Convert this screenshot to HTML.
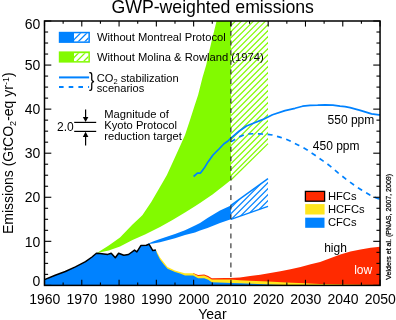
<!DOCTYPE html>
<html lang="en"><head><meta charset="utf-8"><title>GWP-weighted emissions</title>
<style>html,body{margin:0;padding:0;background:#fff;}body{width:396px;height:320px;overflow:hidden;}svg{display:block;}text{font-family:"Liberation Sans", Arial, Helvetica, sans-serif;fill:#000;}</style></head><body>
<svg width="396" height="320" viewBox="0 0 396 320">
<rect width="396" height="320" fill="#fff"/>
<defs>
<clipPath id="plot"><rect x="44.50" y="21.00" width="335.55" height="264.40"/></clipPath>
<clipPath id="gh"><polygon points="230.90,21.00 268.00,21.00 268.00,143.60 230.90,180.00"/></clipPath>
<clipPath id="bh"><polygon points="230.90,205.40 268.00,178.60 268.00,206.40 230.90,219.30"/></clipPath>
<clipPath id="lg1"><rect x="74.0" y="33.3" width="14.4" height="8.1"/></clipPath>
<clipPath id="lg2"><rect x="74.0" y="53.2" width="14.4" height="7.9"/></clipPath>
</defs>
<g clip-path="url(#plot)">
<polygon fill="#82fa00" points="96.90,252.90 108.75,245.60 120.00,237.50 132.50,224.40 140.00,217.50 142.50,215.00 151.25,201.90 157.50,191.25 163.75,180.60 166.90,175.00 173.75,160.00 180.00,146.25 185.00,135.00 190.00,120.00 194.40,106.25 198.10,95.00 202.50,77.50 206.20,65.00 208.40,55.00 211.90,40.00 215.00,27.50 216.60,21.00 230.90,21.00 230.90,180.00 225.00,184.75 212.50,194.60 200.00,203.10 195.00,206.25 185.00,212.50 172.50,220.00 160.00,226.90 145.00,234.40 132.50,240.00 120.00,246.50 108.75,250.60 96.90,252.90"/>
<g clip-path="url(#gh)" stroke="#82fa00" stroke-width="1.1" fill="none">
<line x1="225" y1="25.60" x2="275" y2="-24.40"/>
<line x1="225" y1="31.60" x2="275" y2="-18.40"/>
<line x1="225" y1="37.60" x2="275" y2="-12.40"/>
<line x1="225" y1="43.60" x2="275" y2="-6.40"/>
<line x1="225" y1="49.60" x2="275" y2="-0.40"/>
<line x1="225" y1="55.60" x2="275" y2="5.60"/>
<line x1="225" y1="61.60" x2="275" y2="11.60"/>
<line x1="225" y1="67.60" x2="275" y2="17.60"/>
<line x1="225" y1="73.60" x2="275" y2="23.60"/>
<line x1="225" y1="79.60" x2="275" y2="29.60"/>
<line x1="225" y1="85.60" x2="275" y2="35.60"/>
<line x1="225" y1="91.60" x2="275" y2="41.60"/>
<line x1="225" y1="97.60" x2="275" y2="47.60"/>
<line x1="225" y1="103.60" x2="275" y2="53.60"/>
<line x1="225" y1="109.60" x2="275" y2="59.60"/>
<line x1="225" y1="115.60" x2="275" y2="65.60"/>
<line x1="225" y1="121.60" x2="275" y2="71.60"/>
<line x1="225" y1="127.60" x2="275" y2="77.60"/>
<line x1="225" y1="133.60" x2="275" y2="83.60"/>
<line x1="225" y1="139.60" x2="275" y2="89.60"/>
<line x1="225" y1="145.60" x2="275" y2="95.60"/>
<line x1="225" y1="151.60" x2="275" y2="101.60"/>
<line x1="225" y1="157.60" x2="275" y2="107.60"/>
<line x1="225" y1="163.60" x2="275" y2="113.60"/>
<line x1="225" y1="169.60" x2="275" y2="119.60"/>
<line x1="225" y1="175.60" x2="275" y2="125.60"/>
<line x1="225" y1="181.60" x2="275" y2="131.60"/>
<line x1="225" y1="187.60" x2="275" y2="137.60"/>
<line x1="225" y1="193.60" x2="275" y2="143.60"/>
<line x1="225" y1="199.60" x2="275" y2="149.60"/>
<line x1="225" y1="205.60" x2="275" y2="155.60"/>
<line x1="225" y1="211.60" x2="275" y2="161.60"/>
<line x1="225" y1="217.60" x2="275" y2="167.60"/>
<line x1="225" y1="223.60" x2="275" y2="173.60"/>
<line x1="225" y1="229.60" x2="275" y2="179.60"/>
<line x1="225" y1="235.60" x2="275" y2="185.60"/>
<line x1="225" y1="241.60" x2="275" y2="191.60"/>
<line x1="225" y1="247.60" x2="275" y2="197.60"/>
<line x1="225" y1="253.60" x2="275" y2="203.60"/>
<line x1="225" y1="259.60" x2="275" y2="209.60"/>
</g>
<line x1="230.9" y1="180.0" x2="268.00" y2="143.60" stroke="#82fa00" stroke-width="1.2"/>
<polygon fill="#0082ff" points="146.90,244.30 153.00,241.60 160.00,239.10 175.00,234.10 185.00,230.20 195.00,225.60 200.00,223.10 207.50,218.10 220.00,210.60 230.90,205.40 230.90,219.30 220.00,223.10 207.50,228.10 200.00,230.50 195.00,232.50 185.00,234.90 175.00,238.20 160.00,242.30 153.00,243.60 146.90,244.30"/>
<g clip-path="url(#bh)" stroke="#0082ff" stroke-width="1.2" fill="none">
<line x1="225" y1="201.60" x2="275" y2="151.60"/>
<line x1="225" y1="207.60" x2="275" y2="157.60"/>
<line x1="225" y1="213.60" x2="275" y2="163.60"/>
<line x1="225" y1="219.60" x2="275" y2="169.60"/>
<line x1="225" y1="225.60" x2="275" y2="175.60"/>
<line x1="225" y1="231.60" x2="275" y2="181.60"/>
<line x1="225" y1="237.60" x2="275" y2="187.60"/>
<line x1="225" y1="243.60" x2="275" y2="193.60"/>
<line x1="225" y1="249.60" x2="275" y2="199.60"/>
<line x1="225" y1="255.60" x2="275" y2="205.60"/>
</g>
<polyline fill="none" stroke="#0082ff" stroke-width="1.4" points="230.90,205.40 268.00,178.60"/>
<polyline fill="none" stroke="#0082ff" stroke-width="1.4" points="230.90,219.30 268.00,206.40"/>
<polygon fill="#ff2a00" points="193.10,273.10 198.10,275.10 204.20,274.60 208.20,276.10 211.80,278.20 225.00,278.00 230.60,277.90 240.00,277.40 250.10,276.00 260.20,274.70 270.30,272.90 280.40,271.30 290.50,269.30 300.60,266.90 310.70,264.20 320.10,262.00 330.20,258.30 340.30,254.60 350.40,251.60 360.50,249.40 370.60,247.80 380.00,246.80 380.05,285.40 193.10,285.40"/>
<polygon fill="#ffe61e" points="44.50,279.60 55.20,275.30 65.30,271.50 75.40,266.90 85.50,261.70 92.00,257.00 96.40,253.30 100.00,253.60 107.80,254.40 111.20,253.20 115.30,257.80 118.60,253.20 123.80,255.30 128.50,254.50 134.50,250.10 136.90,251.90 141.00,245.40 146.30,245.30 149.00,244.20 152.80,250.60 155.90,250.00 160.00,257.50 163.80,262.20 167.50,267.00 175.00,270.40 180.00,272.00 185.00,273.30 193.10,273.20 198.10,275.90 204.20,275.60 208.20,277.20 211.80,279.40 225.00,279.40 230.60,279.60 240.00,280.20 250.00,280.80 268.30,281.60 286.50,282.60 304.60,283.30 320.00,284.00 350.00,284.60 380.00,285.00 380.05,285.40 44.50,285.40"/>
<polygon fill="#0082ff" points="44.50,279.60 55.20,275.30 65.30,271.50 75.40,266.90 85.50,261.70 92.00,257.00 96.40,253.30 100.00,253.60 107.80,254.40 111.20,253.20 115.30,257.80 118.60,253.20 123.80,255.30 128.50,254.50 134.50,250.10 136.90,251.90 141.00,245.40 146.30,245.30 149.00,244.20 152.80,250.60 155.90,250.00 157.00,253.50 160.00,259.60 163.80,264.40 167.50,268.80 175.00,271.90 180.00,273.60 185.00,275.60 193.10,275.60 198.10,278.20 204.20,278.20 208.20,279.70 211.80,282.20 225.00,282.70 230.60,283.00 240.00,283.30 252.00,283.80 268.00,284.50 290.00,285.20 380.00,285.40 380.05,285.40 44.50,285.40"/>
<polyline fill="none" stroke="#000" stroke-width="1.5" stroke-linejoin="round" points="44.50,279.60 55.20,275.30 65.30,271.50 75.40,266.90 85.50,261.70 92.00,257.00 96.40,253.30 100.00,253.60 107.80,254.40 111.20,253.20 115.30,257.80 118.60,253.20 123.80,255.30 128.50,254.50 134.50,250.10 136.90,251.90 141.00,245.40 146.30,245.30 149.00,244.20 152.80,250.60 155.90,250.00"/>
<polyline fill="none" stroke="#0082ff" stroke-width="1.7" stroke-linejoin="round" points="193.60,176.50 197.40,173.10 200.50,173.10 204.25,168.10 208.00,161.90 213.00,155.00 219.25,148.75 224.00,143.75 228.00,141.00 230.90,138.10 239.00,131.25 246.50,126.00 255.25,122.50 260.00,120.60 264.00,119.00 272.50,114.75 285.00,110.60 295.00,108.30 302.60,106.20 310.15,105.30 317.70,105.20 325.30,104.90 332.90,105.15 340.00,106.20 345.00,106.70 350.10,107.60 360.20,110.40 371.60,113.90 379.10,114.80 380.00,114.90"/>
<polyline fill="none" stroke="#0082ff" stroke-width="1.7" stroke-linejoin="round" stroke-dasharray="5.0 4.65" points="230.90,141.90 234.00,140.00 239.00,136.90 244.00,135.00 248.40,134.00 252.75,133.75 257.75,133.90 262.10,134.00 266.90,134.20 272.50,135.00 276.25,136.10 280.60,137.40 285.50,138.90 290.20,141.00 294.60,143.25 299.00,145.40 302.80,147.40 307.25,149.90 310.80,152.50 315.10,155.25 318.90,158.00 323.00,160.90 326.80,163.50 330.50,166.40 334.30,169.60 338.10,172.90 341.90,175.90 346.00,179.20 349.90,182.00 354.00,185.00 357.80,187.60 362.00,190.30 366.15,192.70 369.90,195.00 374.20,197.10 378.30,198.60 380.00,199.10"/>
<line x1="230.9" y1="21.3" x2="230.9" y2="285.40" stroke="#262626" stroke-width="1.1" stroke-dasharray="4.9 4.75"/>
</g>
<g stroke="#000" fill="none">
<rect x="44.50" y="21.00" width="335.55" height="264.40" stroke-width="1.5"/>
<line x1="44.50" y1="285.40" x2="44.50" y2="279.80" stroke-width="1.1"/>
<line x1="44.50" y1="21.00" x2="44.50" y2="26.60" stroke-width="1.1"/>
<line x1="63.14" y1="285.40" x2="63.14" y2="282.60" stroke-width="1.1"/>
<line x1="63.14" y1="21.00" x2="63.14" y2="23.80" stroke-width="1.1"/>
<line x1="81.78" y1="285.40" x2="81.78" y2="279.80" stroke-width="1.1"/>
<line x1="81.78" y1="21.00" x2="81.78" y2="26.60" stroke-width="1.1"/>
<line x1="100.43" y1="285.40" x2="100.43" y2="282.60" stroke-width="1.1"/>
<line x1="100.43" y1="21.00" x2="100.43" y2="23.80" stroke-width="1.1"/>
<line x1="119.07" y1="285.40" x2="119.07" y2="279.80" stroke-width="1.1"/>
<line x1="119.07" y1="21.00" x2="119.07" y2="26.60" stroke-width="1.1"/>
<line x1="137.71" y1="285.40" x2="137.71" y2="282.60" stroke-width="1.1"/>
<line x1="137.71" y1="21.00" x2="137.71" y2="23.80" stroke-width="1.1"/>
<line x1="156.35" y1="285.40" x2="156.35" y2="279.80" stroke-width="1.1"/>
<line x1="156.35" y1="21.00" x2="156.35" y2="26.60" stroke-width="1.1"/>
<line x1="174.99" y1="285.40" x2="174.99" y2="282.60" stroke-width="1.1"/>
<line x1="174.99" y1="21.00" x2="174.99" y2="23.80" stroke-width="1.1"/>
<line x1="193.63" y1="285.40" x2="193.63" y2="279.80" stroke-width="1.1"/>
<line x1="193.63" y1="21.00" x2="193.63" y2="26.60" stroke-width="1.1"/>
<line x1="212.28" y1="285.40" x2="212.28" y2="282.60" stroke-width="1.1"/>
<line x1="212.28" y1="21.00" x2="212.28" y2="23.80" stroke-width="1.1"/>
<line x1="230.92" y1="285.40" x2="230.92" y2="279.80" stroke-width="1.1"/>
<line x1="230.92" y1="21.00" x2="230.92" y2="26.60" stroke-width="1.1"/>
<line x1="249.56" y1="285.40" x2="249.56" y2="282.60" stroke-width="1.1"/>
<line x1="249.56" y1="21.00" x2="249.56" y2="23.80" stroke-width="1.1"/>
<line x1="268.20" y1="285.40" x2="268.20" y2="279.80" stroke-width="1.1"/>
<line x1="268.20" y1="21.00" x2="268.20" y2="26.60" stroke-width="1.1"/>
<line x1="286.84" y1="285.40" x2="286.84" y2="282.60" stroke-width="1.1"/>
<line x1="286.84" y1="21.00" x2="286.84" y2="23.80" stroke-width="1.1"/>
<line x1="305.48" y1="285.40" x2="305.48" y2="279.80" stroke-width="1.1"/>
<line x1="305.48" y1="21.00" x2="305.48" y2="26.60" stroke-width="1.1"/>
<line x1="324.12" y1="285.40" x2="324.12" y2="282.60" stroke-width="1.1"/>
<line x1="324.12" y1="21.00" x2="324.12" y2="23.80" stroke-width="1.1"/>
<line x1="342.77" y1="285.40" x2="342.77" y2="279.80" stroke-width="1.1"/>
<line x1="342.77" y1="21.00" x2="342.77" y2="26.60" stroke-width="1.1"/>
<line x1="361.41" y1="285.40" x2="361.41" y2="282.60" stroke-width="1.1"/>
<line x1="361.41" y1="21.00" x2="361.41" y2="23.80" stroke-width="1.1"/>
<line x1="380.05" y1="285.40" x2="380.05" y2="279.80" stroke-width="1.1"/>
<line x1="380.05" y1="21.00" x2="380.05" y2="26.60" stroke-width="1.1"/>
<line x1="44.50" y1="285.40" x2="51.30" y2="285.40" stroke-width="1.1"/>
<line x1="380.05" y1="285.40" x2="373.25" y2="285.40" stroke-width="1.1"/>
<line x1="44.50" y1="274.38" x2="48.10" y2="274.38" stroke-width="1.1"/>
<line x1="380.05" y1="274.38" x2="376.45" y2="274.38" stroke-width="1.1"/>
<line x1="44.50" y1="263.37" x2="48.10" y2="263.37" stroke-width="1.1"/>
<line x1="380.05" y1="263.37" x2="376.45" y2="263.37" stroke-width="1.1"/>
<line x1="44.50" y1="252.35" x2="48.10" y2="252.35" stroke-width="1.1"/>
<line x1="380.05" y1="252.35" x2="376.45" y2="252.35" stroke-width="1.1"/>
<line x1="44.50" y1="241.33" x2="51.30" y2="241.33" stroke-width="1.1"/>
<line x1="380.05" y1="241.33" x2="373.25" y2="241.33" stroke-width="1.1"/>
<line x1="44.50" y1="230.32" x2="48.10" y2="230.32" stroke-width="1.1"/>
<line x1="380.05" y1="230.32" x2="376.45" y2="230.32" stroke-width="1.1"/>
<line x1="44.50" y1="219.30" x2="48.10" y2="219.30" stroke-width="1.1"/>
<line x1="380.05" y1="219.30" x2="376.45" y2="219.30" stroke-width="1.1"/>
<line x1="44.50" y1="208.28" x2="48.10" y2="208.28" stroke-width="1.1"/>
<line x1="380.05" y1="208.28" x2="376.45" y2="208.28" stroke-width="1.1"/>
<line x1="44.50" y1="197.27" x2="51.30" y2="197.27" stroke-width="1.1"/>
<line x1="380.05" y1="197.27" x2="373.25" y2="197.27" stroke-width="1.1"/>
<line x1="44.50" y1="186.25" x2="48.10" y2="186.25" stroke-width="1.1"/>
<line x1="380.05" y1="186.25" x2="376.45" y2="186.25" stroke-width="1.1"/>
<line x1="44.50" y1="175.23" x2="48.10" y2="175.23" stroke-width="1.1"/>
<line x1="380.05" y1="175.23" x2="376.45" y2="175.23" stroke-width="1.1"/>
<line x1="44.50" y1="164.22" x2="48.10" y2="164.22" stroke-width="1.1"/>
<line x1="380.05" y1="164.22" x2="376.45" y2="164.22" stroke-width="1.1"/>
<line x1="44.50" y1="153.20" x2="51.30" y2="153.20" stroke-width="1.1"/>
<line x1="380.05" y1="153.20" x2="373.25" y2="153.20" stroke-width="1.1"/>
<line x1="44.50" y1="142.18" x2="48.10" y2="142.18" stroke-width="1.1"/>
<line x1="380.05" y1="142.18" x2="376.45" y2="142.18" stroke-width="1.1"/>
<line x1="44.50" y1="131.17" x2="48.10" y2="131.17" stroke-width="1.1"/>
<line x1="380.05" y1="131.17" x2="376.45" y2="131.17" stroke-width="1.1"/>
<line x1="44.50" y1="120.15" x2="48.10" y2="120.15" stroke-width="1.1"/>
<line x1="380.05" y1="120.15" x2="376.45" y2="120.15" stroke-width="1.1"/>
<line x1="44.50" y1="109.13" x2="51.30" y2="109.13" stroke-width="1.1"/>
<line x1="380.05" y1="109.13" x2="373.25" y2="109.13" stroke-width="1.1"/>
<line x1="44.50" y1="98.12" x2="48.10" y2="98.12" stroke-width="1.1"/>
<line x1="380.05" y1="98.12" x2="376.45" y2="98.12" stroke-width="1.1"/>
<line x1="44.50" y1="87.10" x2="48.10" y2="87.10" stroke-width="1.1"/>
<line x1="380.05" y1="87.10" x2="376.45" y2="87.10" stroke-width="1.1"/>
<line x1="44.50" y1="76.08" x2="48.10" y2="76.08" stroke-width="1.1"/>
<line x1="380.05" y1="76.08" x2="376.45" y2="76.08" stroke-width="1.1"/>
<line x1="44.50" y1="65.07" x2="51.30" y2="65.07" stroke-width="1.1"/>
<line x1="380.05" y1="65.07" x2="373.25" y2="65.07" stroke-width="1.1"/>
<line x1="44.50" y1="54.05" x2="48.10" y2="54.05" stroke-width="1.1"/>
<line x1="380.05" y1="54.05" x2="376.45" y2="54.05" stroke-width="1.1"/>
<line x1="44.50" y1="43.03" x2="48.10" y2="43.03" stroke-width="1.1"/>
<line x1="380.05" y1="43.03" x2="376.45" y2="43.03" stroke-width="1.1"/>
<line x1="44.50" y1="32.02" x2="48.10" y2="32.02" stroke-width="1.1"/>
<line x1="380.05" y1="32.02" x2="376.45" y2="32.02" stroke-width="1.1"/>
<line x1="44.50" y1="21.00" x2="51.30" y2="21.00" stroke-width="1.1"/>
<line x1="380.05" y1="21.00" x2="373.25" y2="21.00" stroke-width="1.1"/>
</g>
<g font-size="14">
<text x="44.80" y="303.9" text-anchor="middle">1960</text>
<text x="82.08" y="303.9" text-anchor="middle">1970</text>
<text x="119.37" y="303.9" text-anchor="middle">1980</text>
<text x="156.65" y="303.9" text-anchor="middle">1990</text>
<text x="193.93" y="303.9" text-anchor="middle">2000</text>
<text x="231.22" y="303.9" text-anchor="middle">2010</text>
<text x="268.50" y="303.9" text-anchor="middle">2020</text>
<text x="305.78" y="303.9" text-anchor="middle">2030</text>
<text x="343.07" y="303.9" text-anchor="middle">2040</text>
<text x="380.35" y="303.9" text-anchor="middle">2050</text>
<text x="40.4" y="286.20" text-anchor="end">0</text>
<text x="40.4" y="246.53" text-anchor="end">10</text>
<text x="40.4" y="202.47" text-anchor="end">20</text>
<text x="40.4" y="158.40" text-anchor="end">30</text>
<text x="40.4" y="114.33" text-anchor="end">40</text>
<text x="40.4" y="70.27" text-anchor="end">50</text>
<text x="40.4" y="29.00" text-anchor="end">60</text>
<text x="212.4" y="318.7" text-anchor="middle">Year</text>
<text transform="translate(13.1 153.2) rotate(-90)" text-anchor="middle">Emissions (GtCO<tspan font-size="9" dy="2.8">2</tspan><tspan dy="-2.8">-eq yr</tspan><tspan font-size="9" dy="-4.5">-1</tspan><tspan dy="4.5">)</tspan></text>
</g>
<text x="212.7" y="13.4" font-size="17.7" text-anchor="middle">GWP-weighted emissions</text>
<rect x="58.8" y="31.8" width="31.1" height="11.1" fill="#0082ff"/>
<rect x="74.0" y="33.3" width="14.4" height="8.1" fill="#fff"/>
<g clip-path="url(#lg1)" stroke="#0082ff" stroke-width="1.25">
<line x1="70" y1="43.60" x2="95" y2="18.60"/>
<line x1="70" y1="49.90" x2="95" y2="24.90"/>
<line x1="70" y1="56.50" x2="95" y2="31.50"/>
</g>
<rect x="58.8" y="51.4" width="31.1" height="11.2" fill="#82fa00"/>
<rect x="74.0" y="53.2" width="14.4" height="7.9" fill="#fff"/>
<g clip-path="url(#lg2)" stroke="#82fa00" stroke-width="1.25">
<line x1="70" y1="61.50" x2="95" y2="36.50"/>
<line x1="70" y1="68.00" x2="95" y2="43.00"/>
<line x1="70" y1="75.00" x2="95" y2="50.00"/>
</g>
<line x1="59.0" y1="77.4" x2="89.1" y2="77.4" stroke="#0082ff" stroke-width="2"/>
<line x1="59.0" y1="87.1" x2="89.1" y2="87.1" stroke="#0082ff" stroke-width="2" stroke-dasharray="4.6 5.1"/>
<text x="89.1" y="87.0" font-size="20.5" textLength="5.4" lengthAdjust="spacingAndGlyphs">}</text>
<g font-size="11.2">
<text x="97.0" y="40.9">Without Montreal Protocol</text>
<text x="97.0" y="60.7">Without Molina &amp; Rowland (1974)</text>
<text x="96.8" y="82.1" font-size="11.1">CO<tspan font-size="7.5" dy="2.3">2</tspan><tspan dy="-2.3"> stabilization</tspan></text>
<text x="96.8" y="91.8" font-size="11.1">scenarios</text>
<text x="104.2" y="118.4">Magnitude of</text>
<text x="104.2" y="129.1">Kyoto Protocol</text>
<text x="104.2" y="139.9">reduction target</text>
</g>
<g stroke="#000" stroke-width="1.2" fill="none">
<line x1="74.2" y1="122.4" x2="96.2" y2="122.4"/>
<line x1="74.2" y1="131.4" x2="96.2" y2="131.4"/>
<line x1="85.6" y1="109.4" x2="85.6" y2="119" stroke-width="1.2"/>
<line x1="85.6" y1="135" x2="85.6" y2="145.4" stroke-width="1.2"/>
</g>
<polygon points="82.8,117.0 88.4,117.0 85.6,122.1" fill="#000"/>
<polygon points="82.8,136.9 88.4,136.9 85.6,131.8" fill="#000"/>
<text x="57.0" y="130.9" font-size="12">2.0</text>
<text x="327.6" y="123.7" font-size="12">550 ppm</text>
<text x="312.8" y="149.6" font-size="12">450 ppm</text>
<text x="324.2" y="251.7" font-size="12">high</text>
<text x="354.2" y="273.9" font-size="12" style="fill:#fff">low</text>
<rect x="305.4" y="191.4" width="19.2" height="9.8" fill="#ff2a00" stroke="#000" stroke-width="1.3"/>
<rect x="305.2" y="204.1" width="19.4" height="10.4" fill="#ffe61e"/>
<rect x="305.2" y="217.7" width="19.3" height="10.1" fill="#0082ff"/>
<g font-size="11.2">
<text x="327.9" y="199.7">HFCs</text>
<text x="327.9" y="212.9">HCFCs</text>
<text x="327.9" y="226.0">CFCs</text>
</g>
<text transform="translate(391.3 279.7) rotate(-90)" font-size="7.8" textLength="105.8" lengthAdjust="spacingAndGlyphs" stroke="#000" stroke-width="0.25">Velders et al. (PNAS, 2007, 2009)</text>
</svg></body></html>
